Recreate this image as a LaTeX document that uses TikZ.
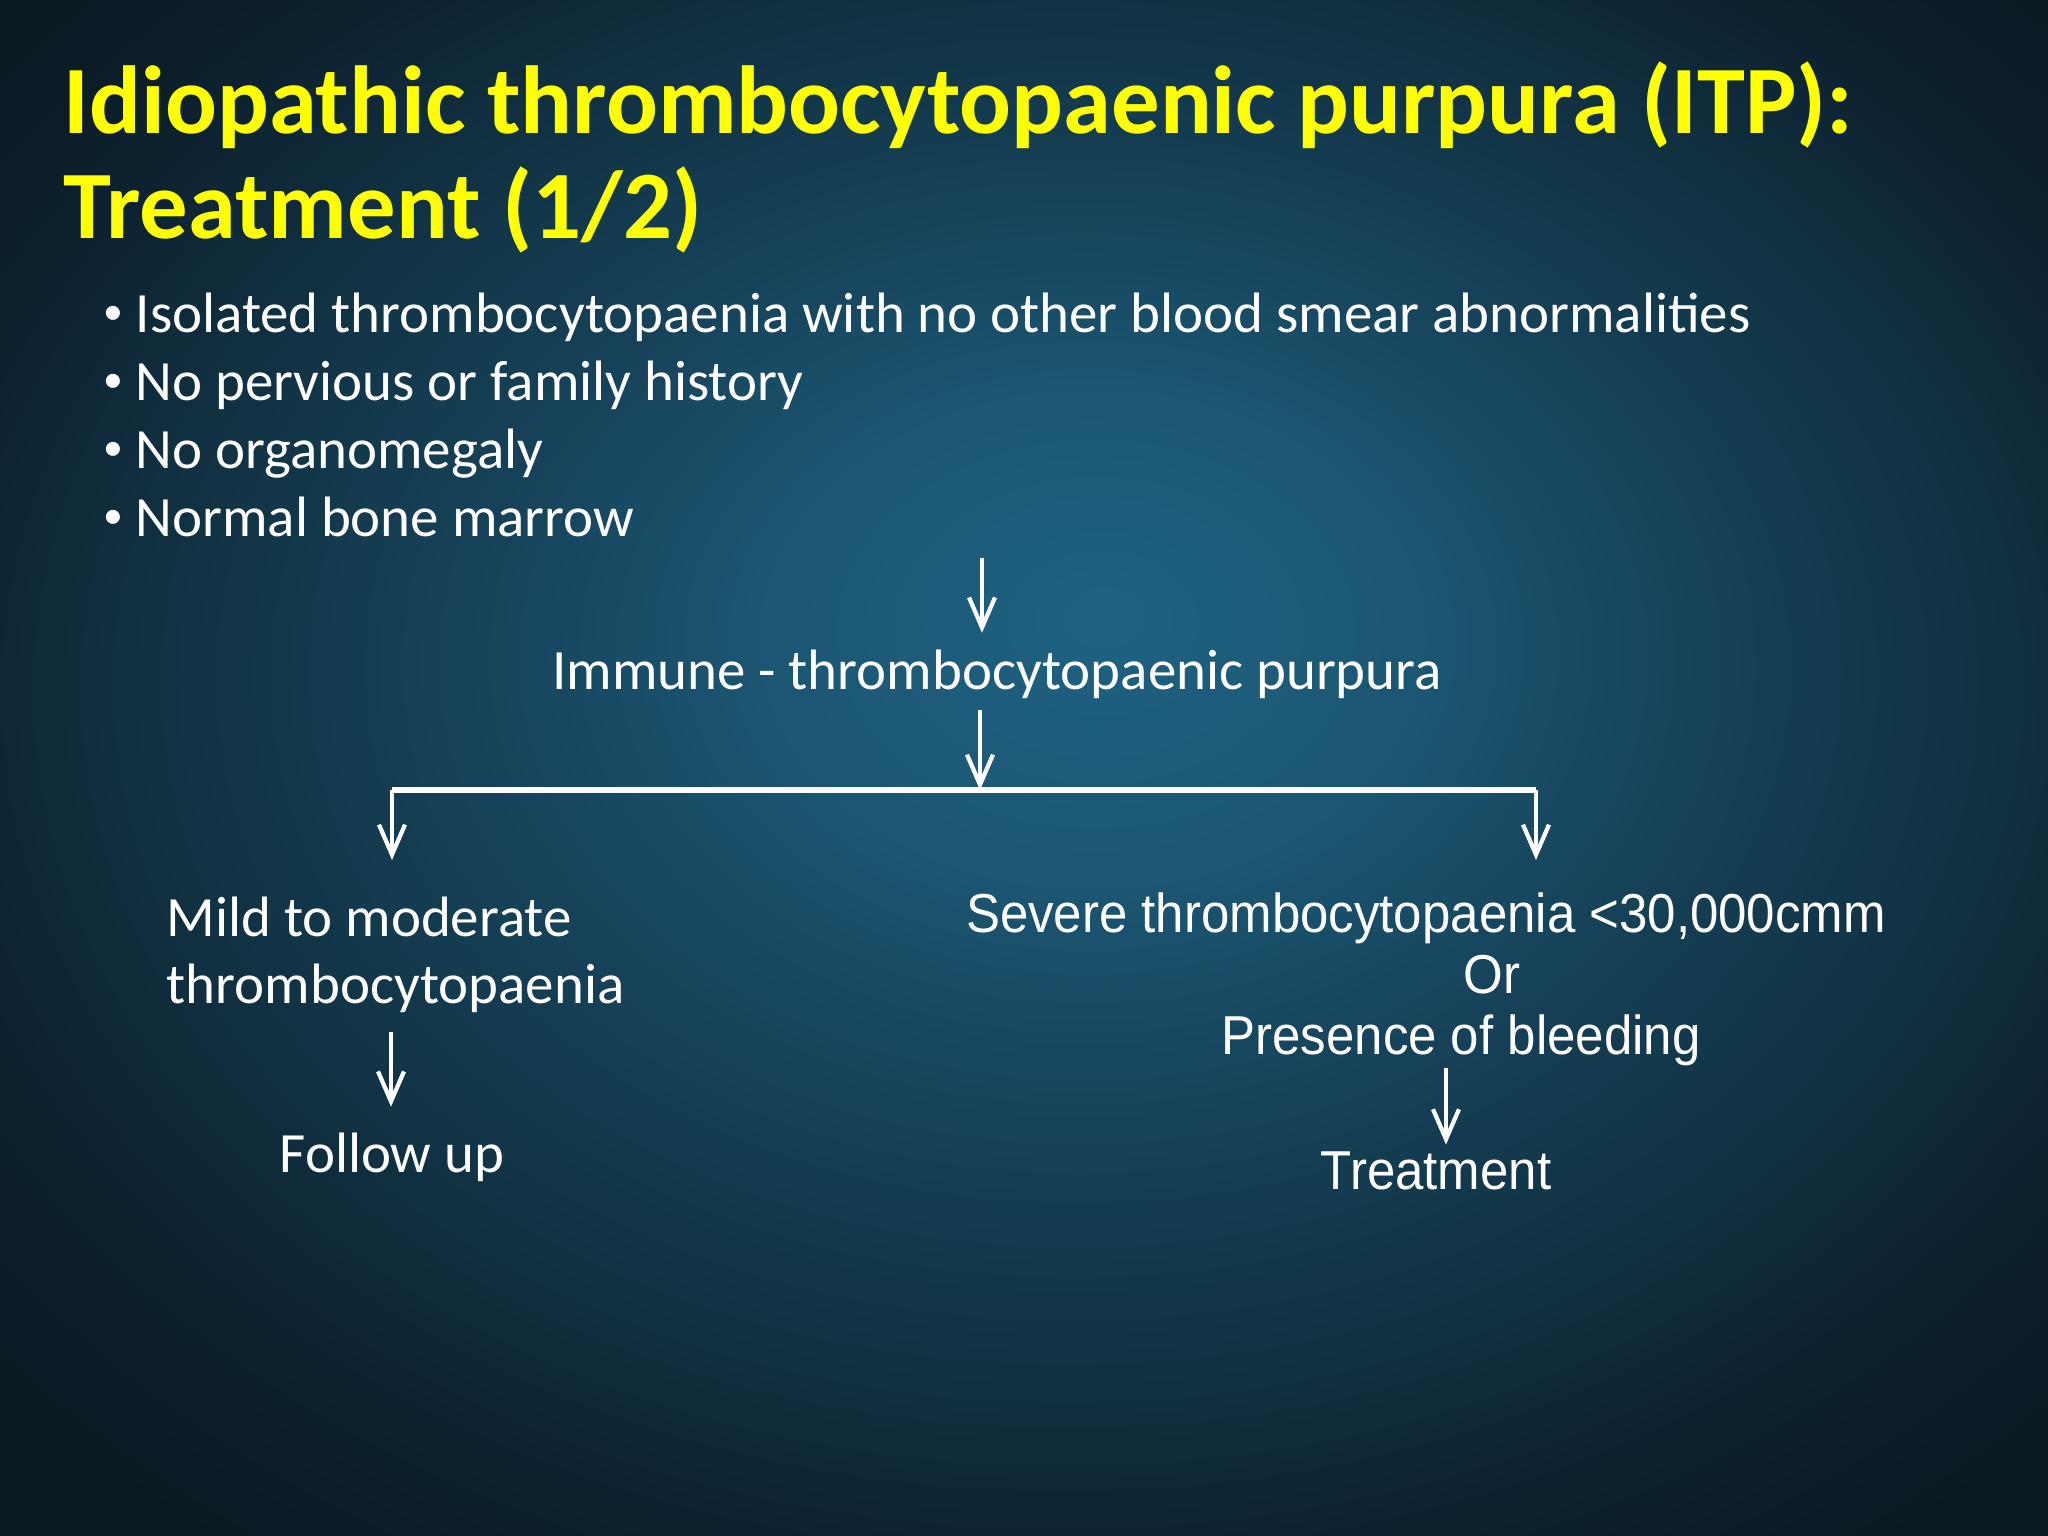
\documentclass[tikz,border=0pt]{standalone}
\usepackage{fontspec}
\setmainfont{Carlito}
\newfontfamily\arialfont[FakeStretch=0.93]{Liberation Sans}
\usetikzlibrary{arrows.meta}
\definecolor{itpyellow}{HTML}{FFFF00}
\definecolor{itpbga}{HTML}{1F6282}
\definecolor{itpbgb}{HTML}{1B5672}
\definecolor{itpbgc}{HTML}{164259}
\definecolor{itpbgd}{HTML}{113243}
\definecolor{itpbge}{HTML}{0D2230}
\definecolor{itpbgf}{HTML}{0A1820}
\pgfdeclareradialshading{itpbg}{\pgfpoint{2bp}{5bp}}{color(0bp)=(itpbga); color(8bp)=(itpbgb); color(15bp)=(itpbgc); color(22bp)=(itpbgd); color(28bp)=(itpbge); color(34bp)=(itpbgf); color(50bp)=(itpbgf)}
\newcommand{\itpbullet}{\makebox[0.32cm][l]{\raisebox{0.08cm}{\fontsize{11.3}{11.3}\selectfont•}}}
\tikzset{
  ttl/.style={text=itpyellow,font=\fontsize{27.5}{33}\selectfont\bfseries,anchor=base west,inner sep=0pt},
  txt/.style={text=white,font=\fontsize{16.2}{19.1}\selectfont,inner sep=0pt},
  atxt/.style={text=white,font=\arialfont\fontsize{15.6}{19}\selectfont,anchor=base,inner sep=0pt},
  ar/.style={-{Straight Barb[length=3mm,width=2.6mm]},line width=1.2pt,white},
  bar/.style={line width=1.6pt,white},
}
\begin{document}
\begin{tikzpicture}
    \shade[shading=itpbg] (0,0) rectangle (20.48,15.36);
    \useasboundingbox (0,0) rectangle (20.48,15.36);
    % title
    \node[ttl] (ttl1) at (0.63,14.02) {Idiopathic thrombocytopaenic purpura (ITP):};
    \node[ttl] (ttl2) at (0.63,12.97) {Treatment (1/2)};
    % criteria
    \node[txt,anchor=base west] (b1) at (1.03,12.03) {\itpbullet Isolated thrombocytopaenia with no other blood smear abnormalities};
    \node[txt,anchor=base west] (b2) at (1.03,11.35) {\itpbullet No pervious or family history};
    \node[txt,anchor=base west] (b3) at (1.03,10.67) {\itpbullet No organomegaly};
    \node[txt,anchor=base west] (b4) at (1.03,9.99) {\itpbullet Normal bone marrow};
    % flow
    \node[txt,anchor=base] (imm) at (9.97,8.46) {Immune - thrombocytopaenic purpura};
    \node[txt,anchor=base west,align=left] (mild) at (1.66,5.32) {Mild to moderate\\thrombocytopaenia};
    \node[txt,anchor=base] (fup) at (3.92,3.63) {Follow up};
    \node[atxt] (sev) at (14.26,6.03) {Severe thrombocytopaenia <30,000cmm};
    \node[atxt] (orn) at (14.92,5.42) {Or};
    \node[atxt] (pres) at (14.61,4.81) {Presence of bleeding};
    \node[atxt] (trt) at (14.36,3.46) {Treatment};
    \coordinate (s1) at (9.82,9.78);
    \coordinate (hm) at (9.80,7.46);
    \coordinate (hl) at (3.92,7.46);
    \coordinate (hr) at (15.36,7.46);
    \coordinate (s2) at (3.91,5.04);
    \coordinate (s3) at (14.46,4.68);
    \draw[ar,shorten >=0.17cm] (s1) -- (s1 |- imm.north);
    \draw[ar,shorten <=0.1cm] (imm.south -| hm) -- (hm);
    \draw[bar] (hl) -- (hr);
    \draw[ar] (hl) -- ++(0,-0.70);
    \draw[ar] (hr) -- ++(0,-0.70);
    \draw[ar,shorten >=0.26cm] (s2) -- (s2 |- fup.north);
    \draw[ar,shorten >=0.07cm] (s3) -- (s3 |- trt.north);
\end{tikzpicture}
\end{document}
